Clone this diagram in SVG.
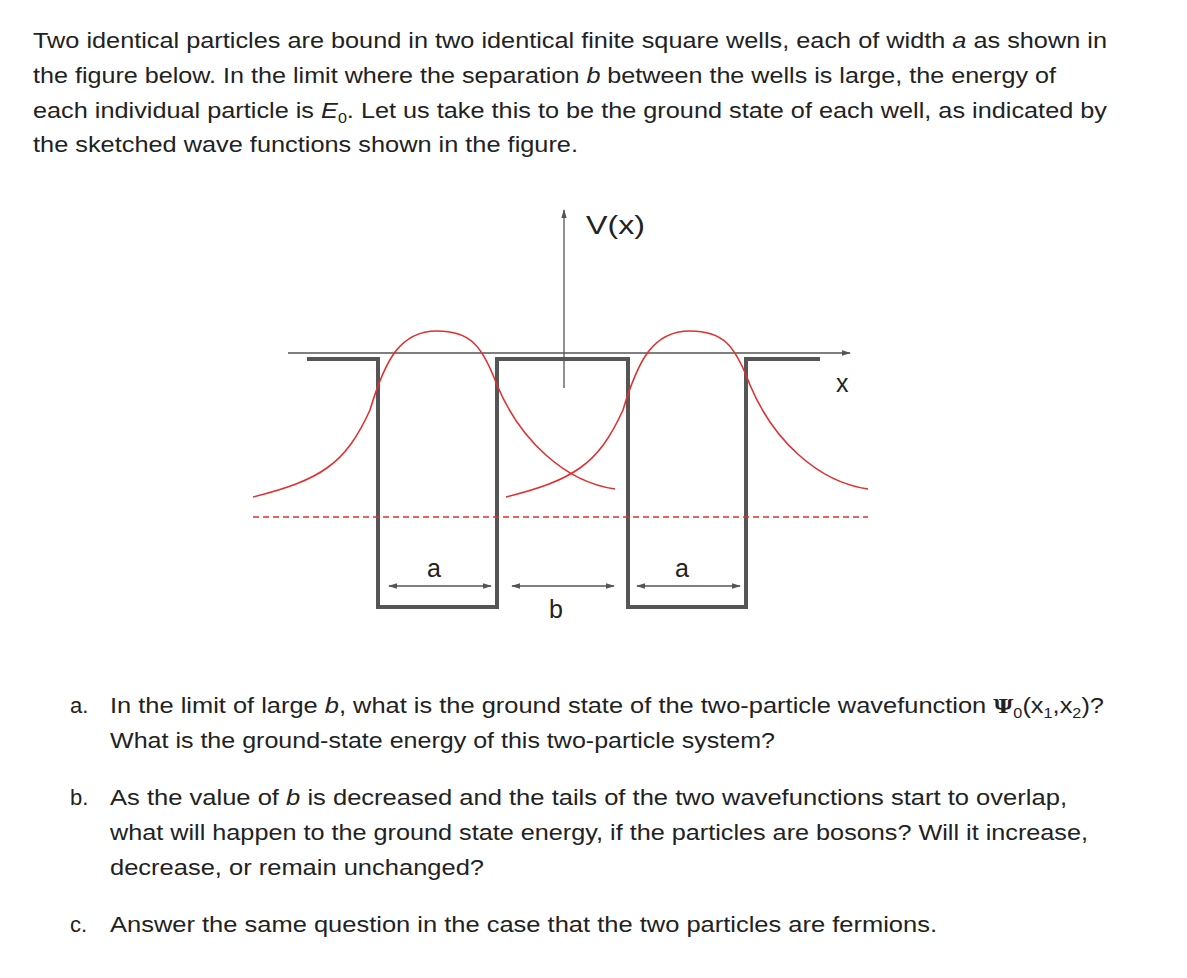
<svg xmlns="http://www.w3.org/2000/svg" width="1187" height="978" viewBox="0 0 1187 978">
<style>
.t{font-family:"Liberation Sans",Arial,sans-serif;font-size:22px;fill:#222}
.l{font-family:"Liberation Sans",Arial,sans-serif;font-size:25px;fill:#222}
.w{fill:none;stroke:#555;stroke-width:4}
.ax{stroke:#555;stroke-width:1.3;fill:none}
.r{fill:none;stroke:#e03030;stroke-width:1.6}
</style>
<defs><marker id="ah" viewBox="0 0 10 10" refX="9" refY="5" markerWidth="7" markerHeight="7" orient="auto-start-reverse"><path d="M0,2 L10,5 L0,8 z" fill="#555"/></marker></defs>
<rect width="1187" height="978" fill="#fff"/>
<g id="intro" class="t">
<text x="33" y="48" textLength="1074" lengthAdjust="spacingAndGlyphs">Two identical particles are bound in two identical finite square wells, each of width <tspan font-style="italic">a</tspan> as shown in</text>
<text x="33" y="83" textLength="1023" lengthAdjust="spacingAndGlyphs">the figure below. In the limit where the separation <tspan font-style="italic">b</tspan> between the wells is large, the energy of</text>
<text x="33" y="118" textLength="1074" lengthAdjust="spacingAndGlyphs">each individual particle is <tspan font-style="italic">E</tspan><tspan font-size="14" dy="5">0</tspan><tspan dy="-5">. Let us take this to be the ground state of each well, as indicated by</tspan></text>
<text x="33" y="152" textLength="545" lengthAdjust="spacingAndGlyphs">the sketched wave functions shown in the figure.</text>
</g>
<g id="well">
<path class="w" d="M307,359 H378 V607 H497 V359 H628 V607 H746 V359 H820"/>
</g>
<g id="connectors">
<line class="ax" x1="288" y1="353" x2="850" y2="353" marker-end="url(#ah)"/>
<line class="ax" x1="564" y1="388" x2="564" y2="210" marker-end="url(#ah)"/>
<line class="ax" x1="389" y1="586" x2="491" y2="586" marker-start="url(#ah)" marker-end="url(#ah)"/>
<line class="ax" x1="512" y1="586" x2="614" y2="586" marker-start="url(#ah)" marker-end="url(#ah)"/>
<line class="ax" x1="637" y1="586" x2="740" y2="586" marker-start="url(#ah)" marker-end="url(#ah)"/>
</g>
<g id="waves">
<line class="r" x1="253" y1="517" x2="868" y2="517" stroke-dasharray="6,4"/>
<path class="r" d="M253,497 C320,480 345,465 370,410 C385,360 400,331 437,331 C470,331 482,345 497,385 C520,440 565,482 615,489"/>
<path class="r" transform="translate(253,0)" d="M253,497 C320,480 345,465 370,410 C385,360 400,331 437,331 C470,331 482,345 497,385 C520,440 565,482 615,489"/>
</g>
<g id="labels" class="l">
<text x="586" y="234" textLength="59" lengthAdjust="spacingAndGlyphs">V(x)</text>
<text x="836" y="392">x</text>
<text x="427" y="577">a</text>
<text x="675" y="577">a</text>
<text x="549" y="618">b</text>
</g>
<g id="questions" class="t">
<text x="70" y="713">a.</text>
<text x="110" y="713" textLength="994" lengthAdjust="spacingAndGlyphs">In the limit of large <tspan font-style="italic">b</tspan>, what is the ground state of the two-particle wavefunction <tspan font-family="DejaVu Serif" font-weight="bold" font-size="19">Ψ</tspan><tspan font-size="14" dy="5">0</tspan><tspan dy="-5">(x</tspan><tspan font-size="14" dy="5">1</tspan><tspan dy="-5">,x</tspan><tspan font-size="14" dy="5">2</tspan><tspan dy="-5">)?</tspan></text>
<text x="110" y="748" textLength="665" lengthAdjust="spacingAndGlyphs">What is the ground-state energy of this two-particle system?</text>
<text x="70" y="805">b.</text>
<text x="110" y="805" textLength="957" lengthAdjust="spacingAndGlyphs">As the value of <tspan font-style="italic">b</tspan> is decreased and the tails of the two wavefunctions start to overlap,</text>
<text x="110" y="840" textLength="978" lengthAdjust="spacingAndGlyphs">what will happen to the ground state energy, if the particles are bosons? Will it increase,</text>
<text x="110" y="875" textLength="374" lengthAdjust="spacingAndGlyphs">decrease, or remain unchanged?</text>
<text x="70" y="932">c.</text>
<text x="110" y="932" textLength="827" lengthAdjust="spacingAndGlyphs">Answer the same question in the case that the two particles are fermions.</text>
</g>
</svg>
